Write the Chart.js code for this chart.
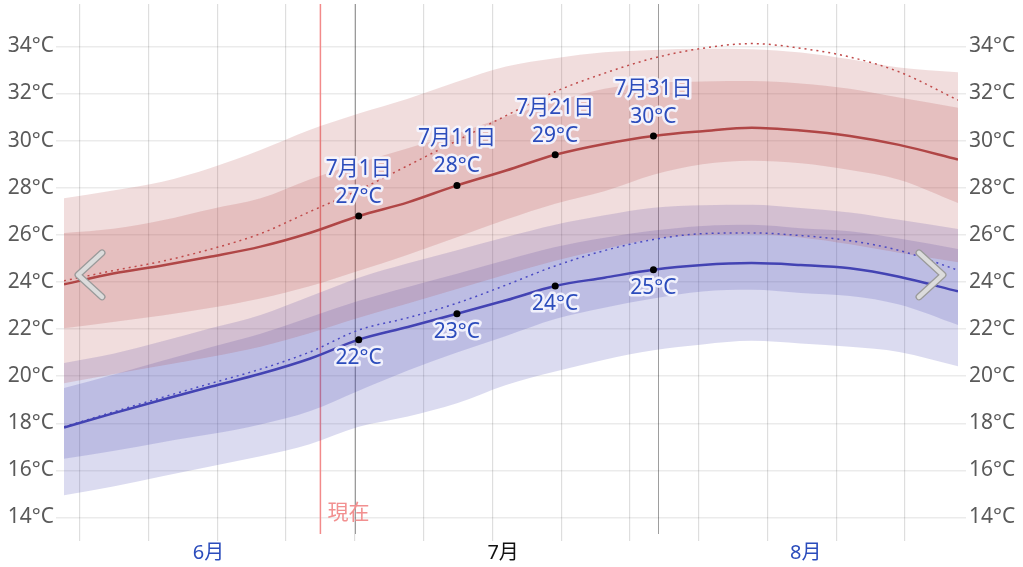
<!DOCTYPE html>
<html lang="ja">
<head>
<meta charset="UTF-8" />
<title>平均気温 6月〜8月</title>
<script src="https://cdn.jsdelivr.net/npm/chart.js"></script>
<style>
  body { margin: 0; background: #fff; }
  #wrap { width: 1023px; height: 567px; }
</style>
</head>
<body>
<div id="wrap"><canvas id="tempChart" width="1023" height="567"></canvas></div>
<script>
// x = days since 6月1日
const days = [0, 5, 10, 15, 20, 25, 30, 35, 40, 45, 50, 55, 60, 65, 70, 75, 80, 85, 91];

// 最高気温 (平均, 体感, 10-90%, 25-75%)
const highAvg   = [23.9, 24.36, 24.7, 25.08, 25.5, 26.08, 26.8, 27.38, 28.1, 28.73, 29.4, 29.86, 30.2, 30.4, 30.55, 30.43, 30.2, 29.82, 29.2];
const highFeel  = [24.05, 24.48, 24.88, 25.4, 26.05, 26.98, 27.9, 28.94, 30.0, 31.06, 32.08, 32.86, 33.5, 33.92, 34.12, 33.92, 33.55, 32.92, 31.72];
const highP90   = [27.55, 27.88, 28.25, 28.85, 29.6, 30.45, 31.15, 31.78, 32.5, 33.15, 33.5, 33.75, 33.85, 33.9, 33.88, 33.74, 33.45, 33.1, 32.9];
const highP75   = [26.08, 26.26, 26.62, 27.1, 27.55, 28.35, 29.05, 29.68, 30.3, 31.02, 31.65, 32.2, 32.45, 32.51, 32.53, 32.43, 32.2, 31.83, 31.4];
const highP25   = [22.03, 22.3, 22.58, 22.9, 23.3, 23.82, 24.48, 25.16, 25.9, 26.65, 27.32, 27.85, 28.55, 29.0, 29.15, 29.04, 28.75, 28.34, 27.35];
const highP10   = [19.7, 20.08, 20.45, 20.82, 21.25, 21.82, 22.48, 23.09, 23.7, 24.32, 24.9, 25.4, 25.82, 25.98, 26.02, 25.89, 25.6, 25.24, 24.84];

// 最低気温
const lowAvg    = [17.82, 18.42, 19.0, 19.56, 20.1, 20.74, 21.55, 22.09, 22.65, 23.22, 23.83, 24.18, 24.52, 24.72, 24.8, 24.72, 24.58, 24.22, 23.6];
const lowFeel   = [17.85, 18.48, 19.1, 19.7, 20.3, 21.02, 21.96, 22.48, 23.1, 23.87, 24.68, 25.33, 25.8, 26.05, 26.08, 25.97, 25.75, 25.34, 24.5];
const lowP90    = [20.56, 20.95, 21.48, 22.04, 22.6, 23.38, 24.18, 24.79, 25.35, 25.91, 26.43, 26.83, 27.15, 27.26, 27.28, 27.14, 26.95, 26.64, 26.25];
const lowP75    = [19.5, 20.06, 20.65, 21.24, 21.8, 22.5, 23.2, 23.79, 24.35, 24.93, 25.48, 25.88, 26.18, 26.38, 26.43, 26.28, 26.15, 25.84, 25.4];
const lowP25    = [16.49, 16.82, 17.2, 17.54, 17.95, 18.51, 19.38, 20.24, 21.0, 21.71, 22.43, 22.91, 23.3, 23.6, 23.67, 23.53, 23.4, 23.04, 22.17];
const lowP10    = [14.94, 15.32, 15.75, 16.18, 16.6, 17.11, 17.85, 18.29, 18.85, 19.63, 20.2, 20.7, 21.1, 21.35, 21.5, 21.39, 21.25, 21.03, 20.42];

// 注記
const annoDays   = [30, 40, 50, 60];
const annoLabels = ['7月1日', '7月11日', '7月21日', '7月31日'];
const annoHigh   = [26.8, 28.1, 29.4, 30.2];
const annoLow    = [21.55, 22.65, 23.83, 24.52];

// 軸
const tempTicks   = [14, 16, 18, 20, 22, 24, 26, 28, 30, 32, 34];
const monthDays   = [14.7, 44.7, 75.5];
const monthLabels = ['6月', '7月', '8月'];
const monthColors = ['#2b4cbc', '#111111', '#2b4cbc'];
const weekDays    = [1.6, 8.6, 15.6, 22.6, 29.6, 36.6, 43.6, 50.6, 57.6, 64.6, 71.6, 78.6, 85.6];
const markDays    = [29.6, 60.5];
const nowDay      = 26.1;

const Y_MIN = 13.3, Y_MAX = 35.8;
const FONT = '"Noto Sans", "Noto Sans CJK JP", sans-serif';

const pts = arr => days.map((d, i) => ({ x: d, y: arr[i] }));

const RED = 'rgba(176, 64, 64, ';
const BLUE = 'rgba(64, 64, 176, ';

function bandEdge(arr) {
  return { data: pts(arr), borderWidth: 0, pointRadius: 0, fill: false, cubicInterpolationMode: 'monotone', order: 5 };
}
function bandFill(arr, color) {
  return { data: pts(arr), borderWidth: 0, pointRadius: 0, fill: '-1', backgroundColor: color, cubicInterpolationMode: 'monotone', order: 5 };
}

const datasets = [
  { label: '平均最高気温', data: pts(highAvg), borderColor: '#b04646', borderWidth: 2.5, pointRadius: 0, fill: false, cubicInterpolationMode: 'monotone', order: 1 },
  { label: '平均最低気温', data: pts(lowAvg), borderColor: '#4343b3', borderWidth: 2.5, pointRadius: 0, fill: false, cubicInterpolationMode: 'monotone', order: 1 },
  { label: '体感最高', data: pts(highFeel), borderColor: '#c04a4a', borderWidth: 1.5, borderDash: [2, 4], pointRadius: 0, fill: false, cubicInterpolationMode: 'monotone', order: 2 },
  { label: '体感最低', data: pts(lowFeel), borderColor: '#4a4ac4', borderWidth: 1.5, borderDash: [2, 4], pointRadius: 0, fill: false, cubicInterpolationMode: 'monotone', order: 2 },
  { label: 'annoHigh', type: 'scatter', data: annoDays.map((d, i) => ({ x: d, y: annoHigh[i] })), pointRadius: 3.5, pointBackgroundColor: '#000', pointBorderWidth: 0, order: 0 },
  { label: 'annoLow', type: 'scatter', data: annoDays.map((d, i) => ({ x: d, y: annoLow[i] })), pointRadius: 3.5, pointBackgroundColor: '#000', pointBorderWidth: 0, order: 0 },
  bandEdge(highP90), bandFill(highP10, RED + '0.18)'),
  bandEdge(highP75), bandFill(highP25, RED + '0.19)'),
  bandEdge(lowP90), bandFill(lowP10, BLUE + '0.19)'),
  bandEdge(lowP75), bandFill(lowP25, BLUE + '0.19)')
];

const overlay = {
  id: 'overlay',
  beforeDatasetsDraw(chart) {
    const { ctx, chartArea } = chart;
    const x = chart.scales.x;
    ctx.save();
    ctx.lineWidth = 1;
    ctx.strokeStyle = 'rgba(0,0,0,0.38)';
    markDays.forEach(d => {
      const px = Math.round(x.getPixelForValue(d)) + 0.5;
      ctx.beginPath(); ctx.moveTo(px, chartArea.top); ctx.lineTo(px, chartArea.bottom); ctx.stroke();
    });
    const nx = x.getPixelForValue(nowDay);
    ctx.strokeStyle = '#f28a8a';
    ctx.lineWidth = 1.5;
    ctx.beginPath(); ctx.moveTo(nx, chartArea.top); ctx.lineTo(nx, chartArea.bottom); ctx.stroke();
    ctx.font = '21px ' + FONT;
    ctx.fillStyle = '#f29090';
    ctx.textAlign = 'left';
    ctx.textBaseline = 'middle';
    ctx.fillText('現在', nx + 7, chartArea.bottom - 21);
    ctx.restore();
  },
  afterDatasetsDraw(chart) {
    const { ctx } = chart;
    const hi = chart.getDatasetMeta(4).data;
    const lo = chart.getDatasetMeta(5).data;
    ctx.save();
    ctx.font = '21px ' + FONT;
    ctx.textAlign = 'center';
    ctx.textBaseline = 'middle';
    ctx.lineJoin = 'round';
    const label = (t, px, py) => {
      ctx.lineWidth = 5;
      ctx.strokeStyle = 'rgba(246,246,255,0.9)';
      ctx.strokeText(t, px, py);
      ctx.fillStyle = '#2b4cbc';
      ctx.fillText(t, px, py);
    };
    annoDays.forEach((d, i) => {
      label(annoLabels[i], hi[i].x, hi[i].y - 47);
      label(Math.round(annoHigh[i]) + '°C', hi[i].x, hi[i].y - 19);
      label(Math.round(annoLow[i]) + '°C', lo[i].x, lo[i].y + 18);
    });
    ctx.restore();
  },
  afterDraw(chart) {
    const { ctx, chartArea } = chart;
    const cy = chart.scales.y.getPixelForValue(24.3);
    const chevron = (tipX, dir) => {
      ctx.beginPath();
      ctx.moveTo(tipX + dir * 24, cy - 22);
      ctx.lineTo(tipX, cy);
      ctx.lineTo(tipX + dir * 24, cy + 22);
      ctx.lineCap = 'round';
      ctx.lineJoin = 'round';
      ctx.strokeStyle = '#9a9a9a';
      ctx.lineWidth = 7;
      ctx.stroke();
      ctx.strokeStyle = '#dcdcdc';
      ctx.lineWidth = 4.5;
      ctx.stroke();
    };
    ctx.save();
    chevron(chartArea.left + 14, 1);
    chevron(chartArea.right - 15, -1);
    ctx.restore();
  }
};

const noPad = s => { s.paddingTop = 0; s.paddingBottom = 0; s.paddingLeft = 0; s.paddingRight = 0; };

const yAxis = (pos, width, pad) => ({
  type: 'linear',
  position: pos,
  min: Y_MIN,
  max: Y_MAX,
  afterBuildTicks: s => { s.ticks = tempTicks.map(v => ({ value: v })); },
  afterFit: s => { s.width = width; noPad(s); },
  border: { display: false },
  grid: {
    drawOnChartArea: pos === 'left',
    color: 'rgba(0,0,0,0.08)',
    lineWidth: 1.5,
    tickLength: 8
  },
  ticks: {
    padding: pad,
    color: '#5a5a5a',
    font: { family: FONT, size: 21 },
    callback: v => v + '°C'
  }
});

new Chart(document.getElementById('tempChart'), {
  type: 'line',
  data: { datasets },
  plugins: [overlay],
  options: {
    responsive: false,
    animation: false,
    events: [],
    layout: { padding: 0 },
    plugins: { legend: { display: false }, tooltip: { enabled: false } },
    scales: {
      x: {
        type: 'linear',
        min: 0,
        max: 91,
        afterBuildTicks: s => {
          s.ticks = weekDays.concat(monthDays).map(v => ({ value: v }));
        },
        afterFit: s => { s.height = 33; noPad(s); },
        border: { display: false },
        grid: {
          color: c => weekDays.includes(c.tick && c.tick.value) ? 'rgba(0,0,0,0.13)' : 'rgba(0,0,0,0)',
          lineWidth: 1.2,
          tickLength: 7
        },
        ticks: {
          autoSkip: false,
          maxRotation: 0,
          padding: 0,
          font: { family: FONT, size: 20 },
          color: c => {
            const i = monthDays.indexOf(c.tick && c.tick.value);
            return i >= 0 ? monthColors[i] : '#000';
          },
          callback: v => {
            const i = monthDays.indexOf(v);
            return i >= 0 ? monthLabels[i] : '';
          }
        }
      },
      y: yAxis('left', 64, 2),
      y2: yAxis('right', 65, 3)
    }
  }
});
</script>
</body>
</html>
